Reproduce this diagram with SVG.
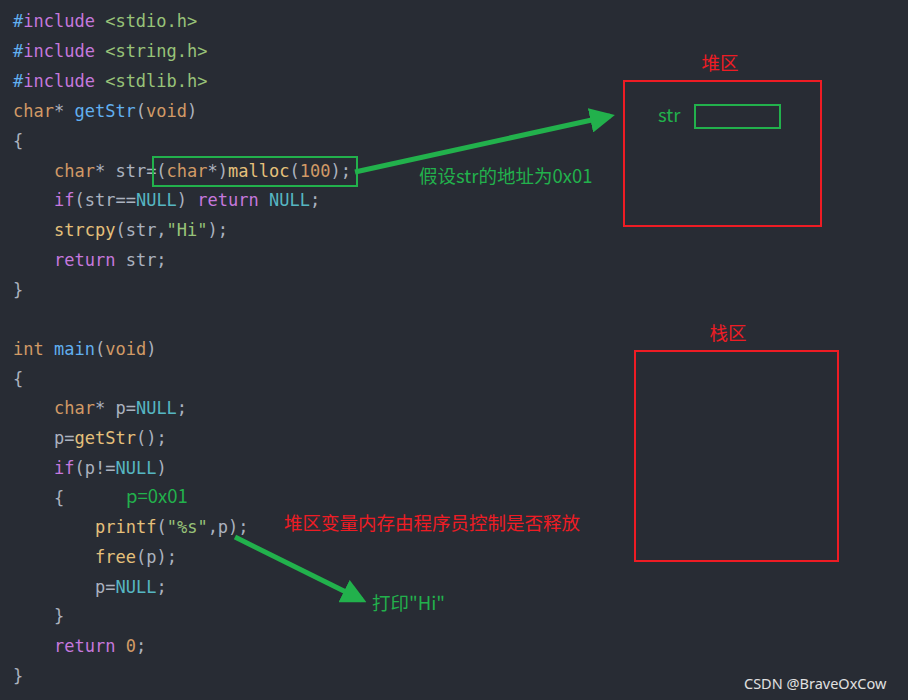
<svg xmlns="http://www.w3.org/2000/svg" width="908" height="700" viewBox="0 0 908 700">
<style>
.c{font-family:"DejaVu Sans Mono","Liberation Mono",monospace;font-size:17px;fill:#abb2bf;white-space:pre}
.k{fill:#c678dd}.t{fill:#d19a66}.f{fill:#61afef}.s{fill:#98c379}.n{fill:#56b6c2}.y{fill:#e5c07b}.h{fill:#61afef}
.g{font-family:"Noto Sans CJK SC","Noto Sans",sans-serif;font-size:18.5px;fill:#22b14c}
.r{font-family:"Noto Sans CJK SC","Noto Sans",sans-serif;font-size:18.5px;fill:#ee1c24}
.box{fill:none;stroke:#ee1c24;stroke-width:2}
.gbox{fill:none;stroke:#22b14c;stroke-width:2}
.arr{stroke:#22b14c;stroke-width:5;fill:none;marker-end:url(#ah)}
</style>
<defs><marker id="ah" markerWidth="5" markerHeight="5" refX="4" refY="2.5" orient="auto"><path d="M0,0L5,2.5L0,5z" fill="#22b14c"/></marker></defs>
<rect width="908" height="700" fill="#282c34"/>
<g id="code" class="c" xml:space="preserve">
<text x="13" y="27"><tspan class="h">#</tspan><tspan class="k">include</tspan> <tspan class="s">&lt;stdio.h&gt;</tspan></text>
<text x="13" y="57"><tspan class="h">#</tspan><tspan class="k">include</tspan> <tspan class="s">&lt;string.h&gt;</tspan></text>
<text x="13" y="87"><tspan class="h">#</tspan><tspan class="k">include</tspan> <tspan class="s">&lt;stdlib.h&gt;</tspan></text>
<text x="13" y="117"><tspan class="t">char</tspan>* <tspan class="f">getStr</tspan>(<tspan class="t">void</tspan>)</text>
<text x="13" y="147">{</text>
<text x="54" y="177"><tspan class="t">char</tspan>* str=(<tspan class="t">char</tspan>*)<tspan class="y">malloc</tspan>(<tspan class="t">100</tspan>);</text>
<text x="54" y="206"><tspan class="k">if</tspan>(str==<tspan class="n">NULL</tspan>) <tspan class="k">return</tspan> <tspan class="n">NULL</tspan>;</text>
<text x="54" y="236"><tspan class="y">strcpy</tspan>(str,<tspan class="s">"Hi"</tspan>);</text>
<text x="54" y="266"><tspan class="k">return</tspan> str;</text>
<text x="13" y="296">}</text>
<text x="13" y="355"><tspan class="t">int</tspan> <tspan class="f">main</tspan>(<tspan class="t">void</tspan>)</text>
<text x="13" y="385">{</text>
<text x="54" y="414"><tspan class="t">char</tspan>* p=<tspan class="n">NULL</tspan>;</text>
<text x="54" y="444">p=<tspan class="y">getStr</tspan>();</text>
<text x="54" y="474"><tspan class="k">if</tspan>(p!=<tspan class="n">NULL</tspan>)</text>
<text x="54" y="504">{</text>
<text x="95" y="533"><tspan class="y">printf</tspan>(<tspan class="s">"%s"</tspan>,p);</text>
<text x="95" y="563"><tspan class="y">free</tspan>(p);</text>
<text x="95" y="593">p=<tspan class="n">NULL</tspan>;</text>
<text x="54" y="622">}</text>
<text x="54" y="652"><tspan class="k">return</tspan> <tspan class="t">0</tspan>;</text>
<text x="13" y="682">}</text>
</g>
<g id="highlight"><rect class="gbox" x="153" y="157" width="204" height="29"/></g>
<g id="heap"><rect class="box" x="624" y="81" width="197" height="145"/><text class="r" x="720" y="70" text-anchor="middle">堆区</text>
<text class="g" x="658" y="122">str</text><rect class="gbox" x="695" y="105" width="85" height="23"/></g>
<g id="stack"><rect class="box" x="635" y="351" width="203" height="210"/><text class="r" x="728" y="340" text-anchor="middle">栈区</text></g>
<g id="connectors">
<line class="arr" x1="355" y1="172" x2="610" y2="116"/>
<line class="arr" x1="235" y1="537" x2="362" y2="600"/>
</g>
<g id="labels">
<text class="g" x="419" y="183">假设str的地址为0x01</text>
<text class="g" x="126" y="503">p=0x01</text>
<text class="r" x="284" y="530">堆区变量内存由程序员控制是否释放</text>
<text class="g" x="372" y="610">打印"Hi"</text>
<text x="744" y="689" font-family="Noto Sans,sans-serif" font-size="14.5" fill="#e0e0e0">CSDN @BraveOxCow</text>
</g>
</svg>
